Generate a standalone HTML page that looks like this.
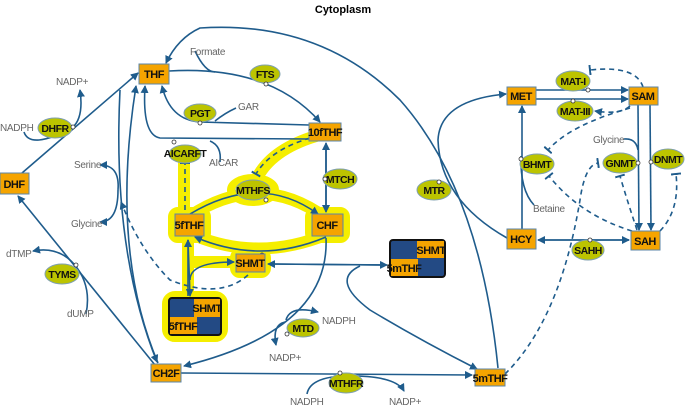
<!DOCTYPE html>
<html><head><meta charset="utf-8"><style>
html,body{margin:0;padding:0;background:#fff}
svg{display:block}
text{font-family:"Liberation Sans",sans-serif}
.n{fill:#f5a400;stroke:#5b86a8;stroke-width:1}
.nt{font-size:11px;font-weight:bold;fill:#111;text-anchor:middle;letter-spacing:-0.5px}
.e{fill:#bcc400;stroke:#7fa0b0;stroke-width:1}
.et{font-size:10.5px;font-weight:bold;fill:#111;text-anchor:middle;letter-spacing:-0.5px}
.l{font-size:10px;fill:#666;letter-spacing:-0.3px}
.p{fill:none;stroke:#1f5c8c;stroke-width:1.6}
.d{fill:none;stroke:#1f5c8c;stroke-width:1.6;stroke-dasharray:5 4}
.y{fill:none;stroke:#f5ee00;stroke-linecap:round;stroke-linejoin:round}
.c{fill:#fff;stroke:#333;stroke-width:0.8}
</style></head><body>
<svg width="685" height="407" viewBox="0 0 685 407" xmlns="http://www.w3.org/2000/svg">
<defs>
<marker id="a" markerWidth="8" markerHeight="8" refX="7" refY="4" orient="auto" markerUnits="userSpaceOnUse" viewBox="0 0 8 8"><path d="M0,0 L8,4 L0,8 z" fill="#1f5c8c"/></marker>
<marker id="t" markerWidth="8" markerHeight="10" refX="1" refY="5" orient="auto" markerUnits="userSpaceOnUse" viewBox="0 0 8 10"><path d="M1,0 L1,10" stroke="#1f5c8c" stroke-width="2"/></marker>
</defs>
<text x="343" y="13" style="font-size:11px;font-weight:bold" text-anchor="middle">Cytoplasm</text>

<g class="y">
<path d="M316,136 Q270,150 256,180" stroke-width="12"/>
<path d="M184,158 L184,225" stroke-width="12"/>
<path d="M190,216 Q260,170 326,218" stroke-width="12"/>
<path d="M196,236 Q260,262 328,234" stroke-width="12"/>
<ellipse cx="253" cy="190" rx="22" ry="12" stroke-width="8"/>
<rect x="172" y="211" width="35" height="28" rx="6" stroke-width="8"/>
<rect x="309" y="211" width="37" height="28" rx="6" stroke-width="8"/>
<path d="M188,238 L188,300" stroke-width="12"/>
<path d="M190,262 L236,262" stroke-width="12"/>
<rect x="234" y="252" width="33" height="22" rx="6" stroke-width="8"/>
<rect x="167" y="296" width="56" height="41" rx="8" stroke-width="10"/>
</g>

<path class="p" d="M22,173 L138,73" marker-end="url(#a)"/>
<path class="p" d="M155,365 L18,196" marker-end="url(#a)"/>
<path class="p" d="M24,132 Q30,150 72,128 Q84,118 80,90" marker-end="url(#a)"/>
<path class="p" d="M169,71 Q270,65 320,122" marker-end="url(#a)"/>
<path class="p" d="M195,51 Q205,72 215,72"/>
<path class="p" d="M309,125 L200,122 Q170,120 162,86" marker-end="url(#a)"/>
<path class="p" d="M236,108 Q225,113 215,121"/>
<path class="p" d="M309,139 L160,138 Q142,135 145,86" marker-end="url(#a)"/>
<path class="p" d="M220,162 Q222,146 210,141"/>
<path class="p" d="M498,368 Q480,190 400,100 Q320,20 200,28 Q178,38 166,63" marker-end="url(#a)"/>
<path class="p" d="M158,363 Q110,250 136,86" marker-end="url(#a)"/>
<path class="p" d="M120,90 Q112,250 157,362" marker-end="url(#a)"/>
<path class="p" d="M118,190 Q120,165 100,165" marker-end="url(#a)"/>
<path class="p" d="M118,190 Q118,222 100,222" marker-end="url(#a)"/>
<path class="d" d="M248,275 Q220,300 170,280 Q140,250 121,202" marker-end="url(#a)"/>
<path class="p" d="M86,314 Q92,285 74,264 Q58,246 33,251" marker-end="url(#a)"/>
<path class="p" d="M326,145 L326,212" marker-end="url(#a)"/>
<path class="p" d="M326,210 L326,143" marker-end="url(#a)"/>
<path class="d" d="M185,228 L185,163" marker-end="url(#t)"/>
<path class="d" d="M310,138 Q270,150 256,174" marker-end="url(#t)"/>
<path class="p" d="M190,214 Q260,172 318,214" marker-end="url(#a)"/>
<path class="p" d="M326,237 Q260,265 195,237" marker-end="url(#a)"/>
<path class="p" d="M188,296 L188,240" marker-end="url(#a)"/>
<path class="p" d="M188,240 L190,296" marker-end="url(#a)"/>
<path class="p" d="M190,280 Q190,262 234,262" marker-end="url(#a)"/>
<path class="p" d="M380,265 L268,264" marker-end="url(#a)"/>
<path class="p" d="M275,264 L387,265" marker-end="url(#a)"/>
<path class="p" d="M326,238 Q330,330 184,366" marker-end="url(#a)"/>
<path class="p" d="M286,320 Q290,305 318,312" marker-end="url(#a)"/>
<path class="p" d="M285,322 Q272,325 276,345" marker-end="url(#a)"/>
<path class="p" d="M181,373 L472,375" marker-end="url(#a)"/>
<path class="p" d="M307,394 Q310,377 345,376 Q395,375 404,391" marker-end="url(#a)"/>
<path class="p" d="M360,266 Q330,280 370,310 Q420,340 477,369" marker-end="url(#a)"/>
<path class="d" d="M505,374 Q560,320 580,200 Q585,165 598,163" marker-end="url(#t)"/>
<path class="p" d="M507,238 Q440,200 438,140 Q440,100 506,94" marker-end="url(#a)"/>
<path class="p" d="M536,90 L628,90" marker-end="url(#a)"/>
<path class="p" d="M536,99 L628,99" marker-end="url(#a)"/>
<path class="p" d="M522,229 L522,106" marker-end="url(#a)"/>
<path class="p" d="M638,105 L639,230" marker-end="url(#a)"/>
<path class="p" d="M650,105 L651,230" marker-end="url(#a)"/>
<path class="p" d="M624,139 Q636,138 638,150"/>
<path class="p" d="M538,240 L629,240" marker-end="url(#a)"/>
<path class="p" d="M629,240 L538,240" marker-end="url(#a)"/>
<path class="p" d="M521,156 Q520,190 534,205"/>
<path class="d" d="M643,87 Q636,65 590,70" marker-end="url(#t)"/>
<path class="d" d="M630,106 Q620,115 595,111" marker-end="url(#a)"/>
<path class="d" d="M630,108 Q570,125 548,150" marker-end="url(#t)"/>
<path class="d" d="M632,231 Q580,215 549,176" marker-end="url(#t)"/>
<path class="d" d="M637,230 Q627,200 620,176" marker-end="url(#t)"/>
<path class="d" d="M660,231 Q680,210 676,174" marker-end="url(#t)"/>

<g>
<ellipse class="e" cx="265" cy="74" rx="15" ry="9"/><text class="et" x="265" y="78">FTS</text>
<ellipse class="e" cx="200" cy="113" rx="16" ry="9"/><text class="et" x="200" y="117">PGT</text>
<ellipse class="e" cx="55" cy="128" rx="17" ry="10"/><text class="et" x="55" y="132">DHFR</text>
<ellipse class="e" cx="185" cy="154" rx="16" ry="9"/><text class="et" x="185" y="157">AICARFT</text>
<ellipse class="e" cx="253" cy="190" rx="17" ry="10"/><text class="et" x="253" y="194">MTHFS</text>
<ellipse class="e" cx="340" cy="179" rx="17" ry="10"/><text class="et" x="340" y="183">MTCH</text>
<ellipse class="e" cx="62" cy="274" rx="17" ry="10"/><text class="et" x="62" y="278">TYMS</text>
<ellipse class="e" cx="303" cy="328" rx="16" ry="9"/><text class="et" x="303" y="332">MTD</text>
<ellipse class="e" cx="346" cy="383" rx="17" ry="10"/><text class="et" x="346" y="387">MTHFR</text>
<ellipse class="e" cx="434" cy="190" rx="17" ry="10"/><text class="et" x="434" y="194">MTR</text>
<ellipse class="e" cx="573" cy="81" rx="17" ry="10"/><text class="et" x="573" y="85">MAT-I</text>
<ellipse class="e" cx="575" cy="111" rx="18" ry="10"/><text class="et" x="575" y="115">MAT-III</text>
<ellipse class="e" cx="537" cy="164" rx="17" ry="10"/><text class="et" x="537" y="168">BHMT</text>
<ellipse class="e" cx="620" cy="163" rx="17" ry="10"/><text class="et" x="620" y="167">GNMT</text>
<ellipse class="e" cx="668" cy="159" rx="16" ry="10"/><text class="et" x="668" y="163">DNMT</text>
<ellipse class="e" cx="588" cy="250" rx="16" ry="10"/><text class="et" x="588" y="254">SAHH</text>
</g>
<g>
<circle class="c" cx="266" cy="84" r="2"/><circle class="c" cx="200" cy="123" r="2"/>
<circle class="c" cx="73" cy="127" r="2"/><circle class="c" cx="174" cy="142" r="2"/>
<circle class="c" cx="266" cy="200" r="2"/><circle class="c" cx="325" cy="179" r="2"/>
<circle class="c" cx="76" cy="265" r="2"/><circle class="c" cx="287" cy="334" r="2"/>
<circle class="c" cx="340" cy="373" r="2"/><circle class="c" cx="439" cy="182" r="2"/>
<circle class="c" cx="588" cy="90" r="2"/><circle class="c" cx="573" cy="101" r="2"/>
<circle class="c" cx="521" cy="159" r="2"/><circle class="c" cx="638" cy="163" r="2"/>
<circle class="c" cx="651" cy="162" r="2"/><circle class="c" cx="590" cy="240" r="2"/>
<circle class="c" cx="262" cy="255" r="2"/>
</g>

<rect class="n" x="139" y="64" width="30" height="20"/><text class="nt" x="154" y="78">THF</text>
<rect class="n" x="0" y="173" width="29" height="21"/><text class="nt" x="14" y="188">DHF</text>
<rect class="n" x="309" y="123" width="32" height="18"/><text class="nt" x="325" y="136">10fTHF</text>
<rect class="n" x="175" y="214" width="29" height="22"/><text class="nt" x="189" y="229">5fTHF</text>
<rect class="n" x="312" y="214" width="31" height="22"/><text class="nt" x="327" y="229">CHF</text>
<rect class="n" x="236" y="254" width="29" height="18"/><text class="nt" x="250" y="267">SHMT</text>
<rect class="n" x="151" y="364" width="30" height="18"/><text class="nt" x="166" y="377">CH2F</text>
<rect class="n" x="475" y="369" width="30" height="17"/><text class="nt" x="490" y="382">5mTHF</text>
<rect class="n" x="507" y="87" width="29" height="18"/><text class="nt" x="521" y="100">MET</text>
<rect class="n" x="629" y="87" width="29" height="18"/><text class="nt" x="643" y="100">SAM</text>
<rect class="n" x="507" y="229" width="29" height="20"/><text class="nt" x="521" y="243">HCY</text>
<rect class="n" x="631" y="231" width="29" height="19"/><text class="nt" x="645" y="245">SAH</text>
<rect x="390" y="240" width="55" height="37" rx="3" fill="#234a84" stroke="#111" stroke-width="2"/>
<rect x="417" y="241" width="27" height="17" fill="#f5a400"/><text class="nt" x="431" y="254">SHMT</text>
<rect x="391" y="259" width="27" height="17" fill="#f5a400"/><text class="nt" x="404" y="272">5mTHF</text>
<rect x="169" y="298" width="52" height="37" rx="3" fill="#234a84" stroke="#111" stroke-width="2"/>
<rect x="194" y="299" width="26" height="18" fill="#f5a400"/><text class="nt" x="207" y="312">SHMT</text>
<rect x="170" y="317" width="27" height="17" fill="#f5a400"/><text class="nt" x="183" y="330">5fTHF</text>

<text class="l" x="190" y="55">Formate</text>
<text class="l" x="238" y="110">GAR</text>
<text class="l" x="209" y="166">AICAR</text>
<text class="l" x="56" y="85">NADP+</text>
<text class="l" x="0" y="131">NADPH</text>
<text class="l" x="74" y="168">Serine</text>
<text class="l" x="71" y="227">Glycine</text>
<text class="l" x="6" y="257">dTMP</text>
<text class="l" x="67" y="317">dUMP</text>
<text class="l" x="322" y="324">NADPH</text>
<text class="l" x="269" y="361">NADP+</text>
<text class="l" x="290" y="405">NADPH</text>
<text class="l" x="389" y="405">NADP+</text>
<text class="l" x="593" y="143">Glycine</text>
<text class="l" x="533" y="212">Betaine</text>
</svg>
</body></html>
